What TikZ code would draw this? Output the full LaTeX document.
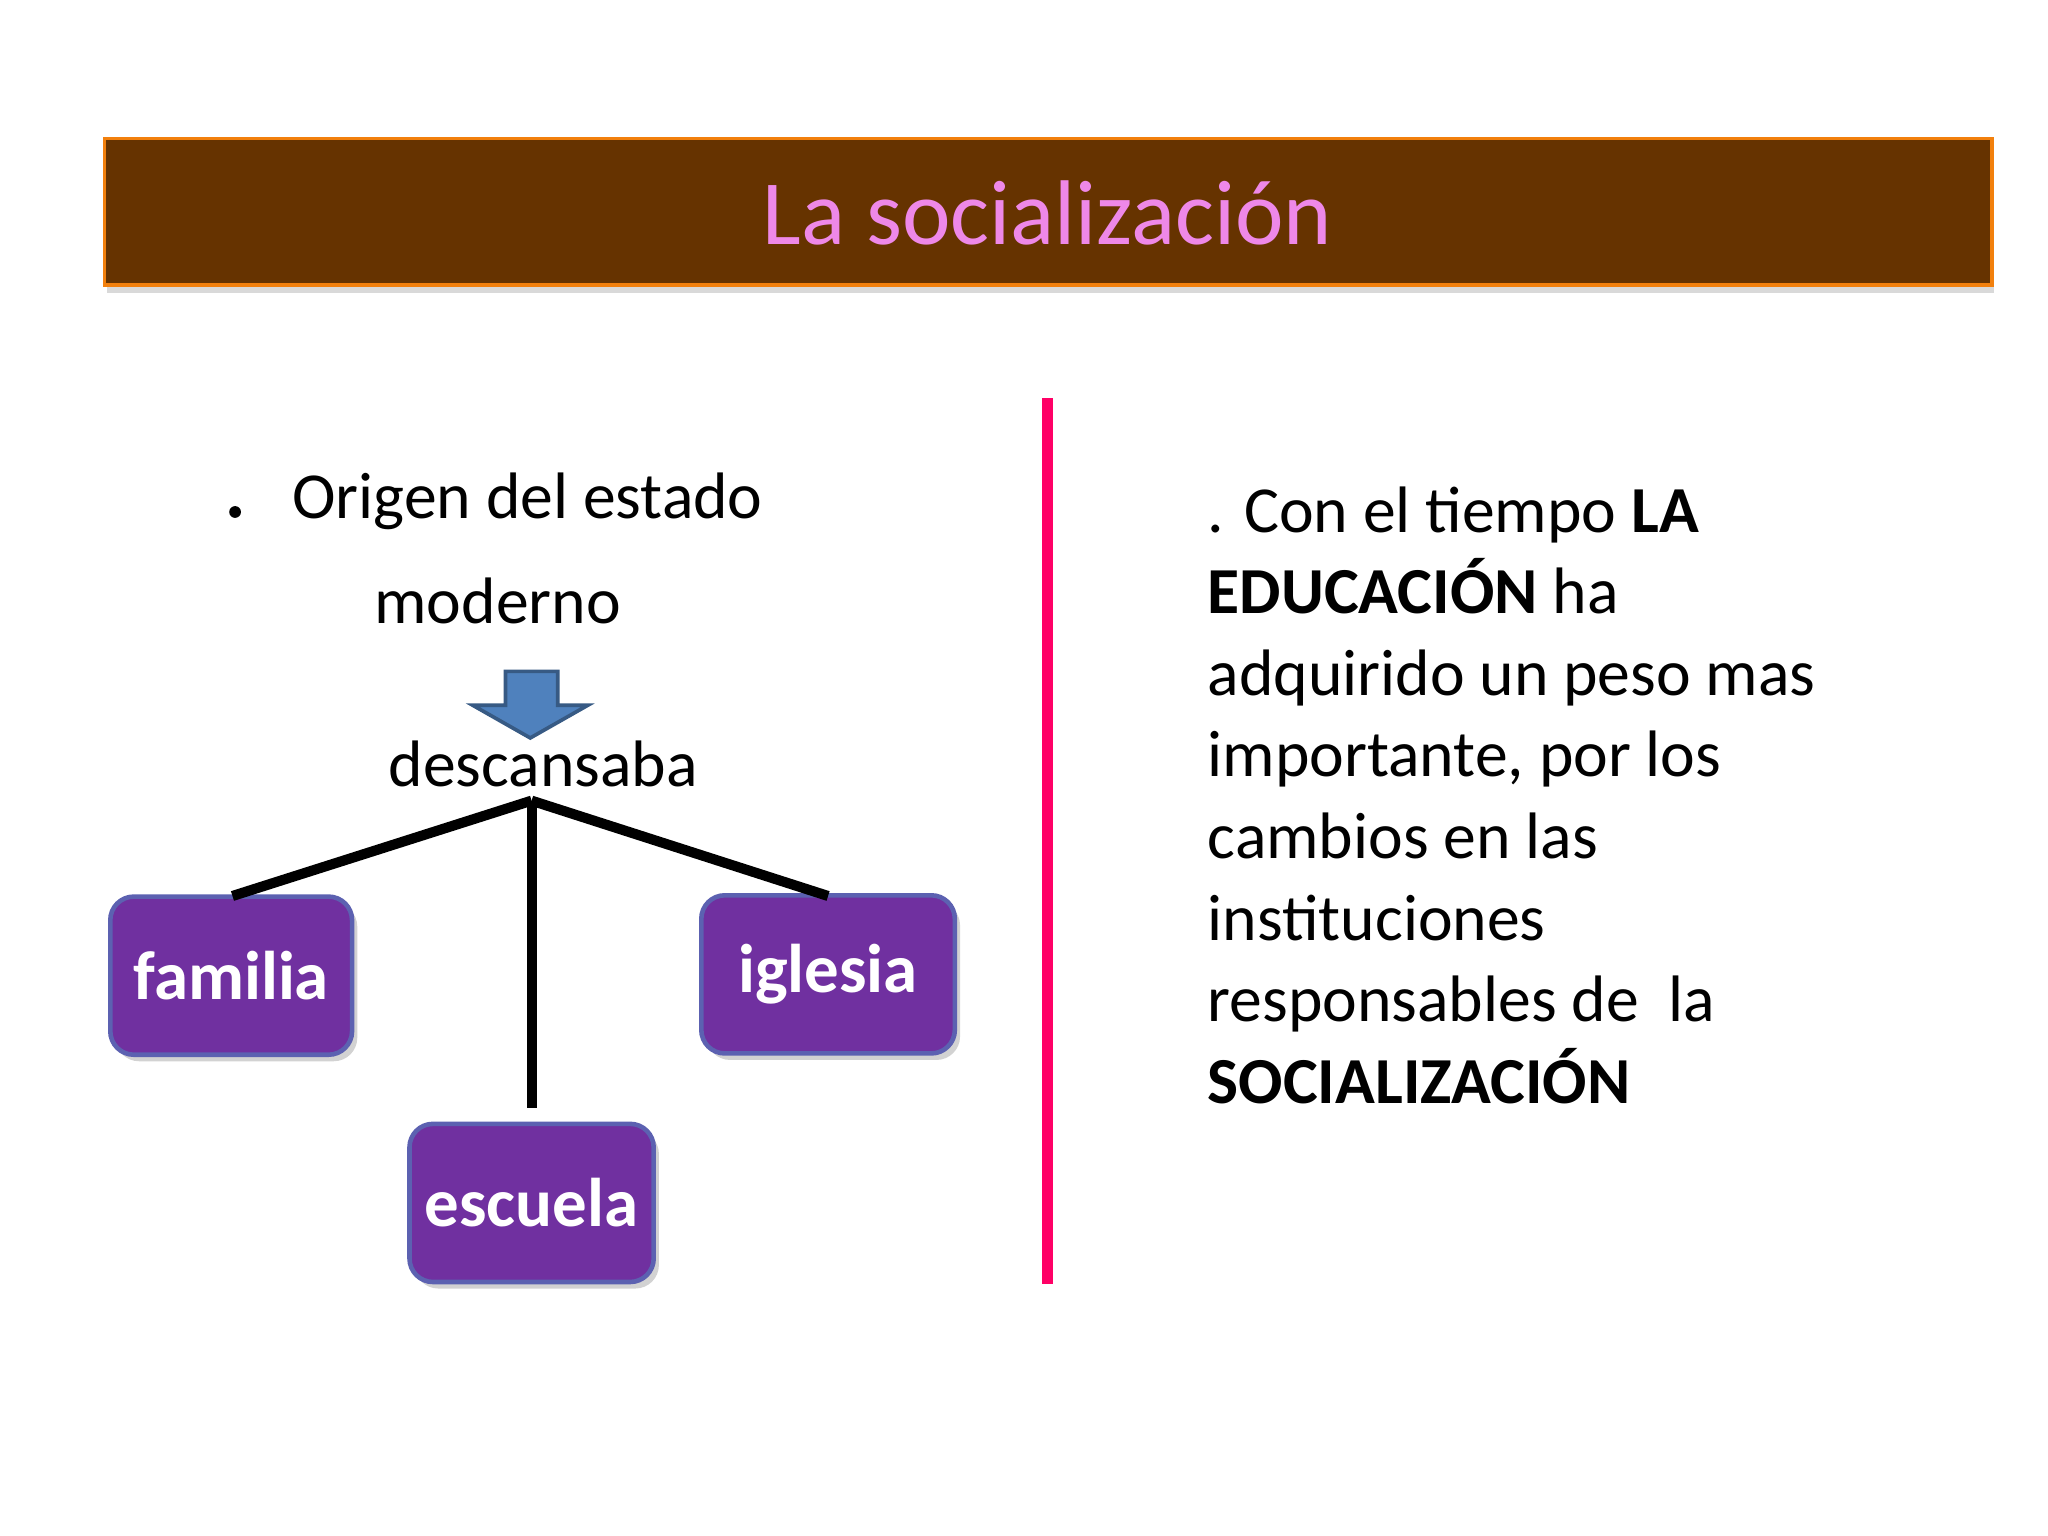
\documentclass[tikz,border=0pt]{standalone}
\usepackage{fontspec}
\setmainfont{Carlito}
\usetikzlibrary{shadows}
\definecolor{brownbar}{HTML}{663300}
\definecolor{titlepink}{HTML}{EE88E8}
\definecolor{boxpurple}{HTML}{7030A0}
\definecolor{arrowblue}{HTML}{4F81BD}
\definecolor{pinkline}{HTML}{FF0066}
\tikzset{
  px/.style={x=0.01cm,y=-0.01cm},
  purplebox/.style={draw=arrowblue!60!boxpurple, line width=1pt, fill=boxpurple, rounded corners=0.18cm,
    minimum width=1.85cm, minimum height=1.21cm, text=white, font=\fontsize{15}{18}\selectfont\bfseries,
    drop shadow={shadow xshift=0.04cm, shadow yshift=-0.05cm, opacity=0.35}},
  branch/.style={line width=2.2pt, black},
  bodytext/.style={font=\fontsize{14.3}{17}\selectfont, inner sep=0pt}
}
\begin{document}
\begin{tikzpicture}[px]
\useasboundingbox (0,0) rectangle (1568,1176);
\fill[white] (0,0) rectangle (1568,1176);
% title bar
\fill[gray!30] (82,112) rectangle (1527,224);
\draw[fill=brownbar, draw=orange!80!brown, line width=0.8pt] (80,106) rectangle (1525,218);
\node[text=titlepink, font=\fontsize{20}{24}\selectfont] (title) at (802,163) {La socialización};
% left
\node[bodytext, anchor=base west] (origen) at (223,397) {Origen del estado};
\fill (180,392) circle (0.045cm);
\node[bodytext, anchor=base] (moderno) at (381,477) {moderno};
\draw[arrowblue!70!black, fill=arrowblue, line width=0.8pt]
  (387,514) -- (427,514) -- (427,540) -- (450,540) -- (406,565) -- (362,540) -- (387,540) -- cycle;
\node[bodytext, anchor=base] (desc) at (416,602) {descansaba};
\coordinate (j) at (407,613);
\node[purplebox] (familia) at (177,747) {familia};
\node[purplebox, minimum width=1.94cm] (iglesia) at (634,746) {iglesia};
\node[purplebox] (escuela) at (407,921) {escuela};
\draw[branch] (j) -- (178,686);
\draw[branch] (j) -- (634,686);
\draw[branch] (j) -- (407,848);
% divider
\draw[pinkline, line width=2.6pt] (802,305) -- (802,983);
% right text
\node[bodytext, anchor=north west, align=left, font=\fontsize{14.3}{17.75}\selectfont] (right) at (924,372)
{. Con el tiempo \textbf{LA}\\
\textbf{EDUCACIÓN} ha\\
adquirido un peso mas\\
importante, por los\\
cambios en las\\
instituciones\\
responsables de\ \ la\\
\textbf{SOCIALIZACIÓN}};
\end{tikzpicture}
\end{document}
